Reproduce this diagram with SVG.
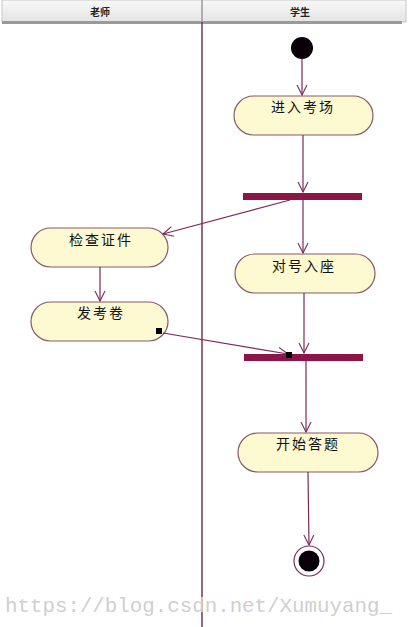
<svg xmlns="http://www.w3.org/2000/svg" width="408" height="627" viewBox="0 0 408 627">
<defs>
<style>
.node rect{fill:#fdf9d0;stroke:#8a5a66;stroke-width:1.2}
.node text{font-family:"Noto Sans CJK SC","Noto Sans CJK JP",sans-serif;font-size:14px;fill:#111;text-anchor:middle;letter-spacing:2px}
.bar{fill:#8c1446}
.conn line,.conn path{stroke:#7a2a5a;stroke-width:1.2;fill:none}
.hdr{font-family:"Noto Sans CJK SC",sans-serif;font-size:10px;font-weight:bold;fill:#222;text-anchor:middle}
</style>
<marker id="arr" viewBox="0 0 12 12" refX="11" refY="6" markerWidth="12" markerHeight="12" markerUnits="userSpaceOnUse" orient="auto">
<path d="M1,1 L11,6 L1,11" fill="none" stroke="#7a2a5a" stroke-width="1.1"/>
</marker>
<linearGradient id="hg" x1="0" y1="0" x2="0" y2="1"><stop offset="0" stop-color="#f8f8f8"/><stop offset="1" stop-color="#e4e4e4"/></linearGradient>
</defs>
<rect width="408" height="627" fill="#ffffff"/>
<g id="header">
<rect x="2" y="0" width="404" height="22" fill="url(#hg)" stroke="#c8c8c8"/>
<line x1="202" y1="0" x2="202" y2="22" stroke="#9a9a9a" stroke-width="1.5"/>
<rect x="2" y="21" width="400" height="3" fill="#9a9a9a"/>
<text class="hdr" x="100" y="16">老师</text>
<text class="hdr" x="300" y="16">学生</text>
</g>
<line x1="202" y1="22" x2="202" y2="627" stroke="#6b3a5a" stroke-width="1.5"/>
<g id="start"><circle cx="302" cy="48" r="11" fill="#0a0008"/></g>
<g id="n1" class="node"><rect x="234" y="96" width="139" height="39" rx="19.5"/><text x="303" y="112">进入考场</text></g>
<g id="fork"><rect class="bar" x="243" y="193" width="119" height="7"/></g>
<g id="n2" class="node"><rect x="31" y="228" width="137" height="39" rx="19.5"/><text x="101" y="245">检查证件</text></g>
<g id="n3" class="node"><rect x="235" y="254" width="140" height="39" rx="19.5"/><text x="304" y="271">对号入座</text></g>
<g id="n4" class="node"><rect x="31" y="302" width="137" height="39" rx="19.5"/><text x="101" y="318">发考卷</text></g>
<g id="join"><rect class="bar" x="244" y="354" width="119" height="7"/></g>
<g id="n5" class="node"><rect x="238" y="433" width="140" height="39" rx="19.5"/><text x="308" y="449">开始答题</text></g>
<g id="end"><circle cx="309" cy="561" r="15" fill="#fff" stroke="#7a2a5a" stroke-width="1.2"/><circle cx="309" cy="561" r="10.5" fill="#0a0008"/></g>
<g id="connectors" class="conn">
<line x1="302" y1="59" x2="302" y2="95" marker-end="url(#arr)"/>
<line x1="303" y1="135" x2="303" y2="192" marker-end="url(#arr)"/>
<line x1="290" y1="200" x2="163" y2="234" marker-end="url(#arr)"/>
<line x1="303" y1="200" x2="303" y2="253" marker-end="url(#arr)"/>
<line x1="100" y1="267" x2="100" y2="301" marker-end="url(#arr)"/>
<line x1="163" y1="333" x2="288" y2="354" marker-end="url(#arr)"/>
<line x1="304" y1="293" x2="304" y2="353" marker-end="url(#arr)"/>
<line x1="306" y1="361" x2="306" y2="432" marker-end="url(#arr)"/>
<line x1="308" y1="472" x2="309" y2="545" marker-end="url(#arr)"/>
<rect x="156" y="328" width="6" height="6" fill="#000"/>
<rect x="286" y="352" width="6" height="6" fill="#000"/>
</g>
<text x="5" y="612" font-family="Liberation Mono,monospace" font-size="20.8" fill="#cfcfcf">https://blog.csdn.net/Xumuyang_</text>
</svg>
